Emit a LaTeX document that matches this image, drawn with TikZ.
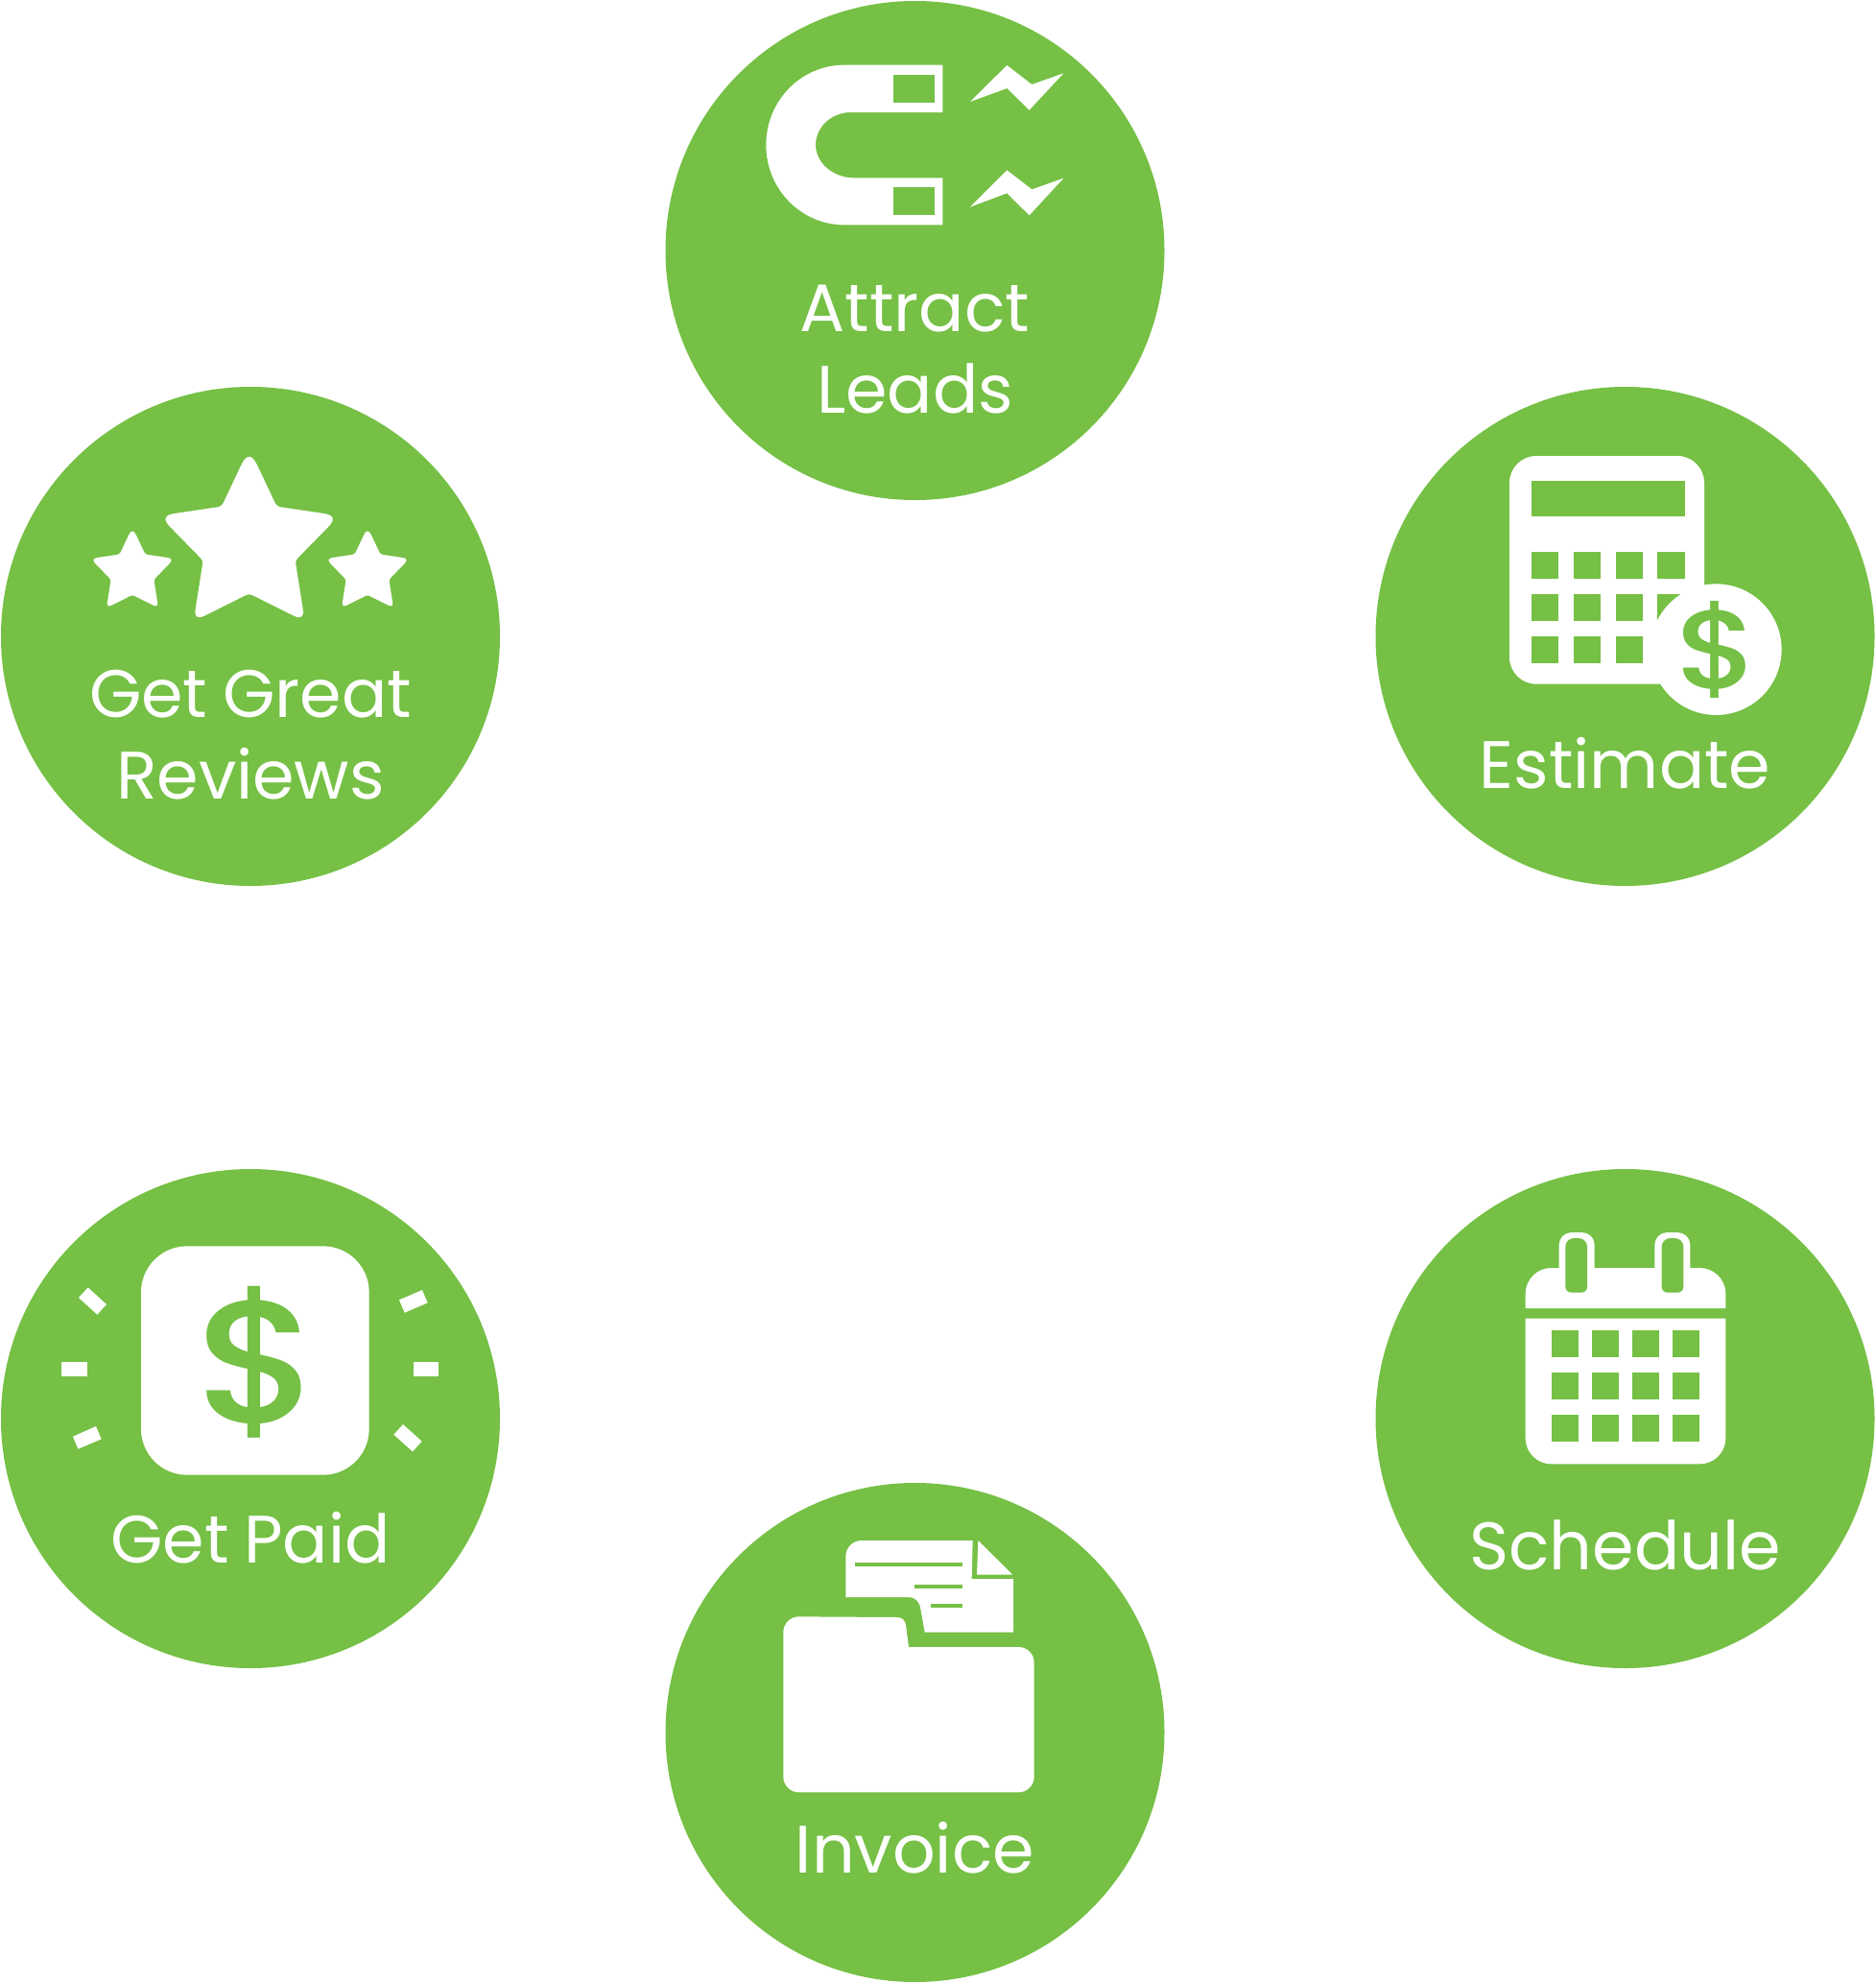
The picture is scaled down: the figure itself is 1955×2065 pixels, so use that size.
\documentclass[tikz,border=0pt]{standalone}
\usepackage{fontspec}
\usepackage{graphicx}
\setmainfont{Poppins}[WordSpace=0.85]
\newfontfamily\dollarfont{Poppins}[UprightFont=* Medium]
\definecolor{leafgreen}{HTML}{75C045}
\newcommand{\mystar}[3]{%
\begin{scope}[shift={(#1,#2)},x=#3pt,y=-#3pt]
\fill[white] (25.7,28) -- (80.9,145.1) .. controls (84.3,152.4) and (90,156.6) .. (97.9,157.8) -- (232.5,177.7) .. controls (265.5,182.6) and (270.2,196.8) .. (246.6,220.4) -- (152.4,316.5) .. controls (146.1,322.2) and (144,329) .. (145.9,336.9) -- (167.8,475.5) .. controls (171.9,501.8) and (162.1,509) .. (138.2,497.1) -- (10.7,433.4) .. controls (3.6,429.8) and (-3.6,429.8) .. (-10.7,433.4) -- (-138.2,497.1) .. controls (-162.1,509) and (-171.9,501.8) .. (-167.8,475.5) -- (-145.9,336.9) .. controls (-144,329) and (-146.1,322.2) .. (-152.4,316.5) -- (-246.6,220.4) .. controls (-270.2,196.8) and (-265.5,182.6) .. (-232.5,177.7) -- (-97.9,157.8) .. controls (-90,156.6) and (-84.3,152.4) .. (-80.9,145.1) -- (-25.7,28) .. controls (-8.57,-8.67) and (8.57,-8.67) .. (25.7,28) -- cycle;
\end{scope}}
\tikzset{
  disc/.style={circle,fill=leafgreen,minimum size=520pt,inner sep=0pt,outer sep=0pt},
  lbl/.style={text=white,anchor=base,inner sep=0pt,font=\fontsize{70}{70}\selectfont},
  dollar/.style={text=leafgreen,anchor=center,inner sep=0pt},
  zoomed/.style={x=0.33333pt,y=-0.33333pt},
  hole/.style={fill=leafgreen,draw=none}
}
\begin{document}
\begin{tikzpicture}[x=1pt,y=-1pt]
\useasboundingbox (0,0) rectangle (1955,2065);
\node[disc] (attract) at (953.5,261) {};
\node[disc] (estimate) at (1693.5,663) {};
\node[disc] (schedule) at (1693.5,1478) {};
\node[disc] (invoice) at (953.5,1805) {};
\node[disc] (paid) at (261,1478) {};
\node[disc] (reviews) at (261,663) {};
% magnet
\begin{scope}[shift={(780,40)},zoomed]
\fill[white] (607,83) -- (300,83) .. controls (165,83) and (55,195) .. (55,333) .. controls (55,471) and (165,583) .. (300,583) -- (607,583) -- (607,436) -- (330,436) .. controls (265,436) and (210,390) .. (210,333) .. controls (210,276) and (260,231) .. (320,231) -- (607,231) -- cycle;
\fill[hole] (453,113) rectangle (581,200);
\fill[hole] (453,466) rectangle (581,553);
\fill[white] (693,198) -- (808,84) -- (886,144) -- (985,109) -- (878,224) -- (808,156) -- cycle;
\fill[white] (693,527) -- (808,412) -- (886,472) -- (985,437) -- (878,553) -- (808,484) -- cycle;
\end{scope}
\node[lbl] (t1) at (953.5,345) {Attract};
\node[lbl] (t2) at (953.5,430) {Leads};
% calculator
\begin{scope}[shift={(1550,460)},zoomed]
\fill[white,rounded corners=28pt] (69,45) rectangle (678,758);
\fill[hole] (137,122) rectangle (617,233);
\foreach \y in {345,477,608}{\foreach \x in {138,270,401,532}{\fill[hole] (\x,\y) rectangle ++(85,84);}}
\fill[white] (715,650) circle[radius=68.3pt];
\end{scope}
\node[dollar] (d1) at (1790,677) {\resizebox{87pt}{91pt}{\dollarfont\$}};
\node[lbl] (t3) at (1693.5,821) {Estimate};
% calendar
\begin{scope}[shift={(1570,1270)},zoomed]
\fill[white] (59,279) [rounded corners=27pt] -- (59,153) -- (685,153) [sharp corners] -- (685,279) -- cycle;
\fill[white] (59,311) [rounded corners=27pt] -- (59,766) -- (685,766) [sharp corners] -- (685,311) -- cycle;
\foreach \x in {164,463}{
  \fill[white] (\x,170) [rounded corners=13pt] -- (\x,42) -- ++(111,0) [sharp corners] -- ++(0,128) -- cycle;
}
\foreach \x in {184,485}{
  \fill[hole] (\x,145) [rounded corners=9pt] -- (\x,60) -- ++(68,0) [sharp corners] -- ++(0,85) [rounded corners=6pt] -- ++(0,85) -- ++(-68,0) [sharp corners] -- cycle;
}
\foreach \y in {348,480,611}{\foreach \x in {141,267,393,519}{\fill[hole] (\x,\y) rectangle ++(85,84);}}
\end{scope}
\node[lbl] (t4) at (1693.5,1635) {Schedule};
% folder
\begin{scope}[shift={(800,1590)},zoomed]
\fill[white] (244,222) -- (244,95) .. controls (244,67) and (266,45) .. (294,45) -- (641,45) -- (638,165) -- (768,165) -- (768,332) -- (491,332) -- (478,258) .. controls (474,235) and (462,223) .. (440,222) -- cycle;
\fill[white] (658,45) -- (766,152) -- (654,152) -- cycle;
\fill[hole] (273,114) rectangle (610,126);
\fill[hole] (459,183) rectangle (610,195);
\fill[hole] (509,242) rectangle (610,254);
\fill[white] (49,331) .. controls (49,305) and (71,283) .. (97,283) -- (405,285) .. controls (420,285) and (430,295) .. (432,310) -- (441,378) -- (785,378) .. controls (811,378) and (833,400) .. (833,426) -- (833,784) .. controls (833,810) and (811,832) .. (785,832) -- (97,832) .. controls (71,832) and (49,810) .. (49,784) -- cycle;
\end{scope}
\node[lbl] (t5) at (953.5,1951) {Invoice};
% get paid
\begin{scope}[shift={(50,1280)},zoomed]
\fill[white,rounded corners=48pt] (291,55) rectangle (1004,770);
\fill[white] (43,418) rectangle (122,462);
\fill[white] (1142,418) rectangle (1222,462);
\fill[white] (125,184) -- (183,237) -- (154,269) -- (96,216) -- cycle;
\fill[white] (1110,612) -- (1169,665) -- (1140,697) -- (1081,644) -- cycle;
\fill[white] (1098,223) -- (1170,192) -- (1187,232) -- (1115,263) -- cycle;
\fill[white] (78,650) -- (150,618) -- (167,658) -- (94,689) -- cycle;
\end{scope}
\node[dollar] (d2) at (269,1419) {\resizebox{132pt}{142pt}{\dollarfont\$}};
\node[lbl] (t6) at (261,1628) {Get Paid};
% stars
\mystar{259.67}{475.67}{0.33333}
\mystar{138}{553.3}{0.1553}
\mystar{383}{553.3}{0.1553}
\node[lbl] (t7) at (261,747) {Get Great};
\node[lbl] (t8) at (261,832.6) {Reviews};
\end{tikzpicture}
\end{document}
